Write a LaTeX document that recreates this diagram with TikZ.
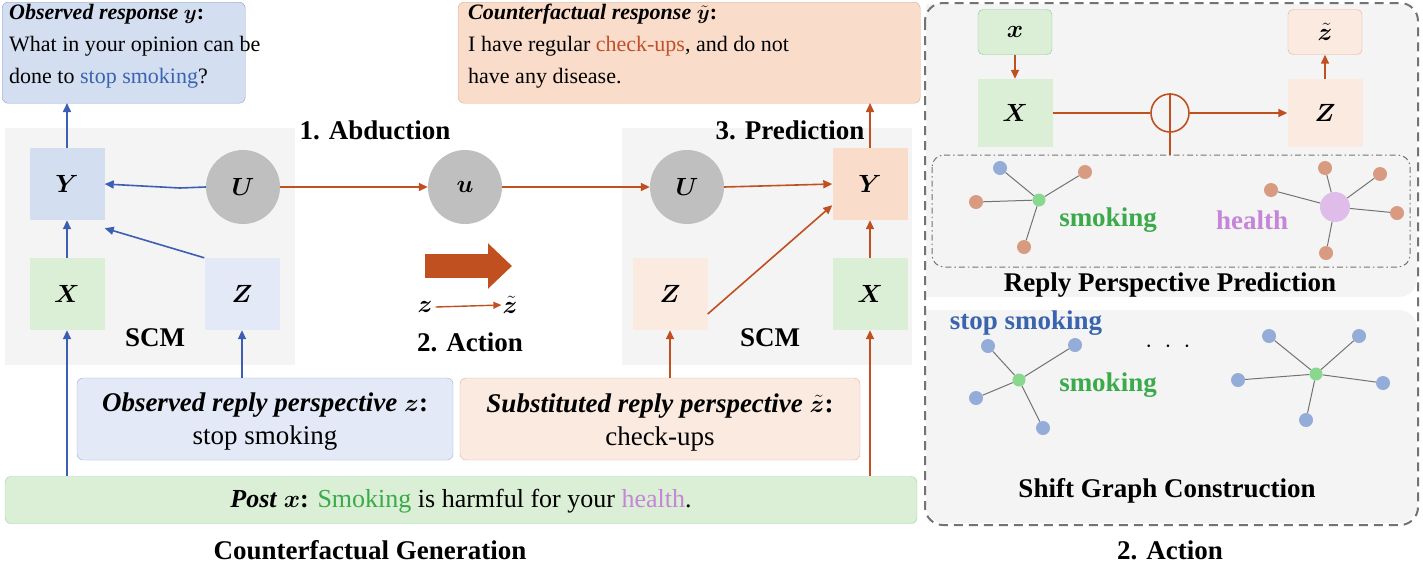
\documentclass[tikz,border=0pt]{standalone}
\usepackage{fontspec}
\setmainfont{Liberation Serif}
\usepackage{bm}
\usetikzlibrary{arrows.meta}
\definecolor{oarr}{HTML}{C0501F}
\definecolor{barr}{HTML}{3C5EB4}
\definecolor{bfill}{HTML}{D3DEF1}
\definecolor{bfill2}{HTML}{E3E9F6}
\definecolor{ofill}{HTML}{FADCCB}
\definecolor{ofill2}{HTML}{FBEAE0}
\definecolor{gfill}{HTML}{DAEFD5}
\definecolor{gtext}{HTML}{3AAA4A}
\definecolor{vtext}{HTML}{C585D8}
\definecolor{btext}{HTML}{3A64AE}
\definecolor{otext}{HTML}{C0502A}
\definecolor{gnode}{HTML}{88D88F}
\definecolor{bnode}{HTML}{93ADD8}
\definecolor{onode}{HTML}{D99A82}
\definecolor{panel}{HTML}{F4F4F4}
\begin{document}
\begin{tikzpicture}[x=1pt,y=-1pt,
  txt/.style={font=\fontsize{22}{32}\selectfont},
  btx/.style={font=\fontsize{27}{33}\selectfont},
  ptx/.style={font=\fontsize{26}{30}\selectfont},
  lbl/.style={font=\fontsize{27}{30}\selectfont\bfseries},
  var/.style={minimum width=75pt,minimum height=72pt,inner sep=0pt,font=\fontsize{30}{32}\selectfont},
  circ/.style={circle,fill=black!25,minimum size=74pt,inner sep=0pt,font=\fontsize{28}{30}\selectfont},
  ba/.style={draw=barr,line width=1.6pt,-{Triangle[length=9pt,width=8pt]}},
  oa/.style={draw=oarr,line width=1.6pt,-{Triangle[length=9pt,width=8pt]}},
  ge/.style={draw=black!55,line width=1pt},
  gn/.style={circle,inner sep=0pt,minimum size=14pt},
  gc/.style={circle,fill=gnode,inner sep=0pt,minimum size=13pt}]
\useasboundingbox (0,0) rectangle (1423,563);
% backgrounds
\fill[panel] (5,128) rectangle (295,365);
\fill[panel] (622,128) rectangle (912,365);
% top boxes
\node[draw=barr!60,fill=bfill,rounded corners=6pt,minimum width=243pt,minimum height=101pt,anchor=north west] (obs) at (2,2) {};
\node[txt,anchor=north west,align=left,inner sep=0pt] (obst) at (9,4) {\textbf{\textit{Observed response}} $\bm{y}$\textbf{:}\\What in your opinion can be\\done to \textcolor{btext}{stop smoking}?};
\node[draw=oarr!50,fill=ofill,rounded corners=6pt,minimum width=462pt,minimum height=101pt,anchor=north west] (cf) at (458,2) {};
\node[txt,anchor=north west,align=left,inner sep=0pt] (cft) at (468,4) {\textbf{\textit{Counterfactual response}} $\bm{\tilde y}$\textbf{:}\\I have regular \textcolor{otext}{check-ups}, and do not\\have any disease.};
% left SCM
\node[var,fill=bfill] (Y1) at (67,184) {$\bm{Y}$};
\node[var,fill=gfill] (X1) at (67,294) {$\bm{X}$};
\node[var,fill=bfill2] (Z1) at (242,294) {$\bm{Z}$};
\node[circ] (U1) at (243,187) {$\bm{U}$};
\node[lbl] (scm1) at (155,338) {SCM};
\node[lbl] (abd) at (375,130) {1. Abduction};
\node[circ] (u) at (465,187) {$\bm{u}$};
% right SCM
\node[circ] (U2) at (687,187) {$\bm{U}$};
\node[var,fill=ofill] (Y2) at (870,184) {$\bm{Y}$};
\node[var,fill=ofill2] (Z2) at (670,294) {$\bm{Z}$};
\node[var,fill=gfill] (X2) at (870,294) {$\bm{X}$};
\node[lbl] (scm2) at (770,338) {SCM};
\node[lbl] (pred) at (790,130) {3. Prediction};
% action
\coordinate (ba1) at (425,266);
\coordinate (ba2) at (512,266);
\draw[oarr,line width=24pt,-{Triangle[length=24pt,width=44pt]}] (ba1) -- (ba2);
\node[font=\fontsize{28}{30}\selectfont,inner sep=0pt] (zs) at (425,307) {$\bm{z}$};
\node[font=\fontsize{28}{30}\selectfont,inner sep=0pt] (zt) at (510,305) {$\bm{\tilde z}$};
\draw[oarr,line width=1.4pt,-{Triangle[length=8pt,width=7pt]}] ([xshift=3pt]zs.east) -- ([xshift=-1pt]zt.west);
\node[lbl] (act1) at (470,342) {2. Action};
% reply boxes
\node[draw=barr!50,fill=bfill2,rounded corners=6pt,minimum width=376pt,minimum height=82pt] (orp) at (265,419) {};
\node[btx,align=center] at (265,422) {\textbf{\textit{Observed reply perspective}} $\bm{z}$\textbf{:}\\stop smoking};
\node[draw=oarr!45,fill=ofill2,rounded corners=6pt,minimum width=400pt,minimum height=82pt] (srp) at (660,419) {};
\node[btx,align=center] at (660,422) {\textbf{\textit{Substituted reply perspective}} $\bm{\tilde z}$\textbf{:}\\check-ups};
\node[draw=gtext!50,fill=gfill,rounded corners=6pt,minimum width=912pt,minimum height=47pt] (post) at (461,500) {};
\node[ptx] at (461,501) {\textbf{\textit{Post}} $\bm{x}$\textbf{:} \textcolor{gtext}{Smoking} is harmful for your \textcolor{vtext}{health}.};
\node[lbl] (cg) at (370,550) {Counterfactual Generation};
% blue arrows
\draw[ba] (X1) -- (Y1);
\draw[ba] (Y1.north) -- (67,103);
\draw[ba] (U1.west) -- (180,188) -- (Y1.east);
\draw[ba] (Z1.north west) -- ([yshift=-8pt]Y1.south east);
\draw[ba] (67,476) -- (X1.south);
\draw[ba] (242,378) -- (Z1.south);
% orange arrows
\draw[oa] (U1) -- (u);
\draw[oa] (u) -- (U2);
\draw[oa] (U2.east) -- (Y2.west);
\draw[oa] ([yshift=-20pt]Z2.east) -- ([yshift=15pt]Y2.south west);
\draw[oa] (X2) -- (Y2);
\draw[oa] (Y2.north) -- (870,103);
\draw[oa] (670,378) -- (Z2.south);
\draw[oa] (870,476) -- (X2.south);
% right panel
\fill[panel] (926,4) [rounded corners=18pt] -- (1417,4) -- (1417,297) [sharp corners] -- (926,297) -- cycle;
\fill[panel] (926,310) [rounded corners=18pt] -- (1417,310) -- (1417,523) -- (926,523) [sharp corners]-- cycle;
\draw[black!55,line width=2pt,dash pattern=on 9pt off 6pt,rounded corners=18pt] (925,3) rectangle (1418,525);
\node[draw=gtext!60,fill=gfill,rounded corners=5pt,minimum width=74pt,minimum height=45pt,font=\fontsize{24}{26}\selectfont] (xs) at (1015,32) {$\bm{x}$};
\node[draw=oarr!45,fill=ofill2,rounded corners=5pt,minimum width=74pt,minimum height=45pt,font=\fontsize{24}{26}\selectfont] (zts) at (1325,32) {$\bm{\tilde z}$};
\node[var,fill=gfill,minimum height=68pt] (X3) at (1015,113) {$\bm{X}$};
\node[var,fill=ofill2,minimum height=68pt] (Z3) at (1325,113) {$\bm{Z}$};
\draw[oa] (xs) -- (X3);
\draw[oa] (Z3) -- (zts);
\node[circle,draw=oarr,line width=1.6pt,minimum size=38pt,inner sep=0pt] (op) at (1170,113) {};
\draw[oarr,line width=1.6pt] (op.north) -- (op.south);
\coordinate (opb) at (1170,155);
\draw[oarr,line width=1.6pt] (op.south) -- (opb);
\draw[oa] (X3) -- (op) -- (Z3);
\draw[black!55,line width=1pt,dash pattern=on 6pt off 3pt on 1.5pt off 3pt,rounded corners=12pt] (932,155) rectangle (1410,267);
% graph 1
\node[gc] (c1) at (1039,200) {};
\foreach \n/\p/\c in {a/{1000,168}/bnode,b/{1085,172}/onode,c/{976,202}/onode,d/{1024,247}/onode}
  {\node[gn,fill=\c] (g1\n) at (\p) {}; \draw[ge] (c1) -- (g1\n);}
\node[lbl,text=gtext] at (1108,220) {smoking};
\node[lbl,text=vtext] at (1252,220) {health};
\node[circle,fill=vtext!55,minimum size=30pt,inner sep=0pt] (c2) at (1335,207) {};
\foreach \n/\p in {a/{1325,168},b/{1380,174},c/{1271,190},d/{1397,213},e/{1326,253}}
  {\node[gn,fill=onode] (g2\n) at (\p) {}; \draw[ge] (c2) -- (g2\n);}
\node[lbl] at (1170,285) {Reply Perspective Prediction};
% lower panel
\node[lbl,text=btext] at (1026,323) {stop smoking};
\node[gc] (c3) at (1019,380) {};
\foreach \n/\p in {a/{988,346},b/{1075,345},c/{976,398},d/{1043,428}}
  {\node[gn,fill=bnode] (g3\n) at (\p) {}; \draw[ge] (c3) -- (g3\n);}
\node[lbl,text=gtext] at (1108,385) {smoking};
\node[lbl] at (1168,347) {$\cdot\ \cdot\ \cdot$};
\node[gc] (c4) at (1316,374) {};
\foreach \n/\p in {a/{1269,336},b/{1359,336},c/{1238,380},d/{1383,383},e/{1306,420}}
  {\node[gn,fill=bnode] (g4\n) at (\p) {}; \draw[ge] (c4) -- (g4\n);}
\node[lbl] at (1167,491) {Shift Graph Construction};
\node[lbl] at (1170,550) {2. Action};
\end{tikzpicture}
\end{document}
